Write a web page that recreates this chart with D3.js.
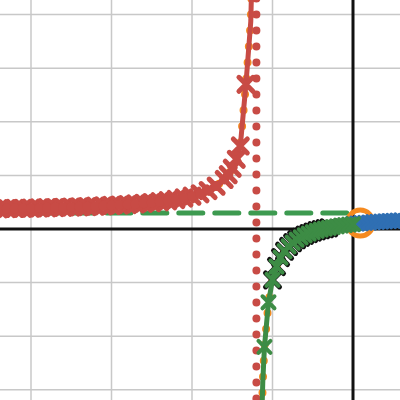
<!DOCTYPE html>
<html><head><meta charset="utf-8">
<script src="https://cdn.jsdelivr.net/npm/d3@7"></script>
<style>body{margin:0;background:#fff}svg{display:block}</style>
</head><body>
<svg id="c" width="400" height="400"></svg>
<script>
const xTicks=[-4,-3,-2,-1,0];
const yTicks=[-3,-2,-1,1,2,3,4];
const asymX=-1.2, asymY=0.3;
const leftX=[-4.4,-4.3,-4.2,-4.1,-4.0,-3.9,-3.8,-3.7,-3.6,-3.5,-3.4,-3.3,-3.2,-3.1,-3.0,-2.9,-2.8,-2.7,-2.6,-2.5,-2.4,-2.3,-2.2,-2.1,-2.0,-1.9,-1.8,-1.7,-1.6,-1.55,-1.5,-1.45,-1.4,-1.33];
const leftY=[0.378,0.381,0.383,0.386,0.389,0.393,0.396,0.400,0.404,0.409,0.414,0.419,0.425,0.432,0.439,0.447,0.456,0.467,0.479,0.492,0.508,0.527,0.55,0.578,0.613,0.657,0.717,0.8,0.925,1.014,1.133,1.3,1.55,2.7];
const leftTailX=[-1.27,-1.26,-1.255], leftTailY=[3.87,4.47,4.85];
const rightHeadX=[-1.145,-1.14,-1.12], rightHeadY=[-4.25,-3.87,-2.825];
const rightX=[-1.1,-1.05,-1.0,-0.95,-0.9,-0.85,-0.8,-0.75,-0.7,-0.65,-0.6,-0.55,-0.5,-0.45,-0.4,-0.35,-0.3,-0.25,-0.2,-0.15,-0.1,-0.05,0];
const rightY=[-2.2,-1.367,-0.95,-0.7,-0.533,-0.414,-0.325,-0.256,-0.2,-0.155,-0.117,-0.085,-0.057,-0.033,-0.0125,0.006,0.022,0.037,0.05,0.062,0.073,0.083,0.092];
const blueX=[0,0.05,0.1,0.15,0.2,0.25,0.3,0.35,0.4,0.45,0.5,0.55,0.6];
const blueY=[0.092,0.1,0.108,0.115,0.121,0.127,0.133,0.139,0.144,0.149,0.153,0.157,0.161];
const holeX=0.09, holeY=0.11;

const svg=d3.select('#c');
const x=d3.scaleLinear().domain([0,1]).range([353,433.5]);
const y=d3.scaleLinear().domain([0,1]).range([229,175.4]);
const zip=(a,b)=>a.map((v,i)=>[v,b[i]]);
const line=d3.line().x(d=>x(d[0])).y(d=>y(d[1]));
svg.selectAll('.gx').data(xTicks).join('line').attr('x1',d=>x(d)).attr('x2',d=>x(d)).attr('y1',0).attr('y2',400).attr('stroke','#c8c8c8').attr('stroke-width',1.5);
svg.selectAll('.gy').data(yTicks).join('line').attr('y1',d=>y(d)).attr('y2',d=>y(d)).attr('x1',0).attr('x2',400).attr('stroke','#c8c8c8').attr('stroke-width',1.5);
svg.append('line').attr('x1',0).attr('x2',400).attr('y1',y(0)).attr('y2',y(0)).attr('stroke','#111').attr('stroke-width',3);
svg.append('line').attr('x1',x(0)).attr('x2',x(0)).attr('y1',0).attr('y2',400).attr('stroke','#111').attr('stroke-width',3);

const leftPts=zip(leftX,leftY).concat(zip(leftTailX,leftTailY));
const rightPts=zip(rightHeadX,rightHeadY).concat(zip(rightX,rightY));
const bluePts=zip(blueX,blueY);
svg.append('path').attr('d',line([[-4.4,asymY],[0,asymY]])).attr('stroke','#3d9a50').attr('stroke-width',5).attr('stroke-dasharray','24,12').attr('stroke-linecap','round').attr('fill','none');
[leftPts,rightPts].forEach(p=>svg.append('path').attr('d',line(p)).attr('stroke','#f58a1f').attr('stroke-width',8).attr('stroke-dasharray','0,16').attr('stroke-linecap','round').attr('fill','none'));
svg.append('path').attr('d',line([[asymX,4.3],[asymX,-3.3]])).attr('stroke','#c84b45').attr('stroke-width',8).attr('stroke-dasharray','0,16').attr('stroke-linecap','round').attr('fill','none');
function cross(pts,color,size,w){
  const g=svg.append('g');
  pts.forEach(p=>{
    const cx=x(p[0]),cy=y(p[1]);
    g.append('path').attr('d',`M${cx-size},${cy-size}L${cx+size},${cy+size}M${cx-size},${cy+size}L${cx+size},${cy-size}`).attr('stroke',color).attr('stroke-width',w).attr('stroke-linecap','round');
  });
}
svg.append('circle').attr('cx',x(holeX)).attr('cy',y(holeY)).attr('r',13).attr('fill','none').attr('stroke','#f58a1f').attr('stroke-width',5);
svg.append('path').attr('d',line(bluePts)).attr('stroke','#2f6fb3').attr('stroke-width',11).attr('fill','none');
cross(bluePts,'#2f6fb3',6,4);
svg.append('path').attr('d',line(leftPts)).attr('stroke','#c84b45').attr('stroke-width',5).attr('fill','none');
cross(zip(leftX,leftY),'#c84b45',7,5);
svg.append('g').selectAll('circle').data(zip(leftX.slice(0,30),leftY.slice(0,30))).join('circle').attr('cx',d=>x(d[0])).attr('cy',d=>y(d[1])).attr('r',5).attr('fill','#c84b45');
cross(zip(rightX.slice(2,17),rightY.slice(2,17)),'#111',7,5);
svg.append('path').attr('d',line(rightPts)).attr('stroke','#3d8c45').attr('stroke-width',5).attr('fill','none');
cross(zip(rightX,rightY),'#3d8c45',6,4);
</script>
</body></html>
